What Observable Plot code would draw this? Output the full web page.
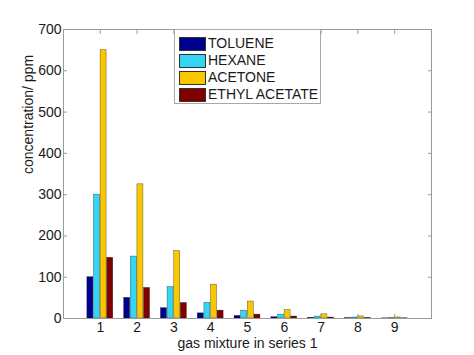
<!DOCTYPE html>
<html>
<head>
<meta charset="utf-8">
<script src="https://cdn.jsdelivr.net/npm/d3@7"></script>
<script src="https://cdn.jsdelivr.net/npm/@observablehq/plot@0.6"></script>
<style>
  html, body { margin: 0; padding: 0; background: #fff; }
  #wrap { position: relative; width: 474px; height: 355px; font-family: "Liberation Sans", Arial, sans-serif; }
  #legend { position: absolute; left: 174px; top: 29px; width: 145px; height: 73px; border: 1px solid #a8a8a8; background: #fff; }
  .row { position: absolute; left: 4px; height: 14px; }
  .sw { position: absolute; left: 0; top: 0; width: 25px; height: 12px; border: 0.5px solid #333; }
  .lb { position: absolute; left: 29px; top: -1px; font-size: 14px; line-height: 14px; color: #1a1a1a; white-space: nowrap; }
</style>
</head>
<body>
<div id="wrap"></div>
<script>
// ---- data ----
const groups = [1, 2, 3, 4, 5, 6, 7, 8, 9];
const seriesNames = ["TOLUENE", "HEXANE", "ACETONE", "ETHYL ACETATE"];
const seriesColors = ["#00008f", "#35d6f5", "#f9c700", "#800000"];
const toluene      = [100, 50, 25, 12.5, 6.2, 3.1, 1.6, 0.8, 0.4];
const hexane       = [300, 150, 76, 38, 19, 9.4, 4.7, 2.3, 1.2];
const acetone      = [650, 325, 163, 82, 41, 20.3, 10.2, 5.1, 2.5];
const ethylAcetate = [147, 74, 37.5, 19, 9.4, 4.7, 2.3, 1.2, 0.6];
const yTicks = [0, 100, 200, 300, 400, 500, 600, 700];
const xLabel = "gas mixture in series 1";
const yLabel = "concentration/ ppm";

const seriesValues = [toluene, hexane, acetone, ethylAcetate];
const slot = 0.18, barW = 0.163;
const rows = [];
seriesValues.forEach((vals, i) => {
  vals.forEach((v, j) => {
    const c = groups[j] + (i - 1.5) * slot;
    rows.push({series: seriesNames[i], group: groups[j], value: v, x1: c - barW / 2, x2: c + barW / 2});
  });
});

const font = "Liberation Sans, Arial, sans-serif";
const axisColor = "#9a9a9a";

const chart = Plot.plot({
  width: 474,
  height: 355,
  marginLeft: 63,
  marginRight: 43,
  marginTop: 29,
  marginBottom: 37,
  style: {fontFamily: font, fontSize: "14px", color: "#1a1a1a", background: "#fff"},
  x: {type: "linear", domain: [0, 10]},
  y: {domain: [0, 700]},
  color: {domain: seriesNames, range: seriesColors},
  marks: [
    Plot.rectY(rows, {x1: "x1", x2: "x2", y1: 0, y2: "value", fill: "series", stroke: "#000", strokeWidth: 0.5, strokeOpacity: 0.6}),
    Plot.frame({stroke: axisColor, strokeWidth: 1}),
    Plot.axisY({ticks: yTicks, tickSize: -4, tickPadding: 6, stroke: axisColor, label: null, fill: "#1a1a1a"}),
    Plot.axisY({anchor: "right", ticks: yTicks, tickSize: -4, stroke: axisColor, label: null, tickFormat: () => ""}),
    Plot.axisX({ticks: groups, tickSize: -4, tickPadding: 8, stroke: axisColor, label: null, fill: "#1a1a1a"}),
    Plot.axisX({anchor: "top", ticks: groups, tickSize: -4, stroke: axisColor, label: null, tickFormat: () => ""}),
    Plot.text([xLabel], {frameAnchor: "bottom", dy: 25, lineAnchor: "middle", text: d => d, fill: "#1a1a1a", fontSize: 14}),
    Plot.text([yLabel], {frameAnchor: "left", dx: -35, rotate: -90, lineAnchor: "middle", text: d => d, fill: "#1a1a1a", fontSize: 14})
  ]
});

const wrap = document.getElementById("wrap");
wrap.appendChild(chart);

// legend (MATLAB-style box)
const legend = document.createElement("div");
legend.id = "legend";
seriesNames.forEach((name, i) => {
  const row = document.createElement("div");
  row.className = "row";
  row.style.top = (7 + i * 16.9) + "px";
  const sw = document.createElement("div");
  sw.className = "sw";
  sw.style.background = seriesColors[i];
  const lb = document.createElement("div");
  lb.className = "lb";
  lb.textContent = name;
  row.appendChild(sw);
  row.appendChild(lb);
  legend.appendChild(row);
});
wrap.appendChild(legend);
</script>
</body>
</html>
